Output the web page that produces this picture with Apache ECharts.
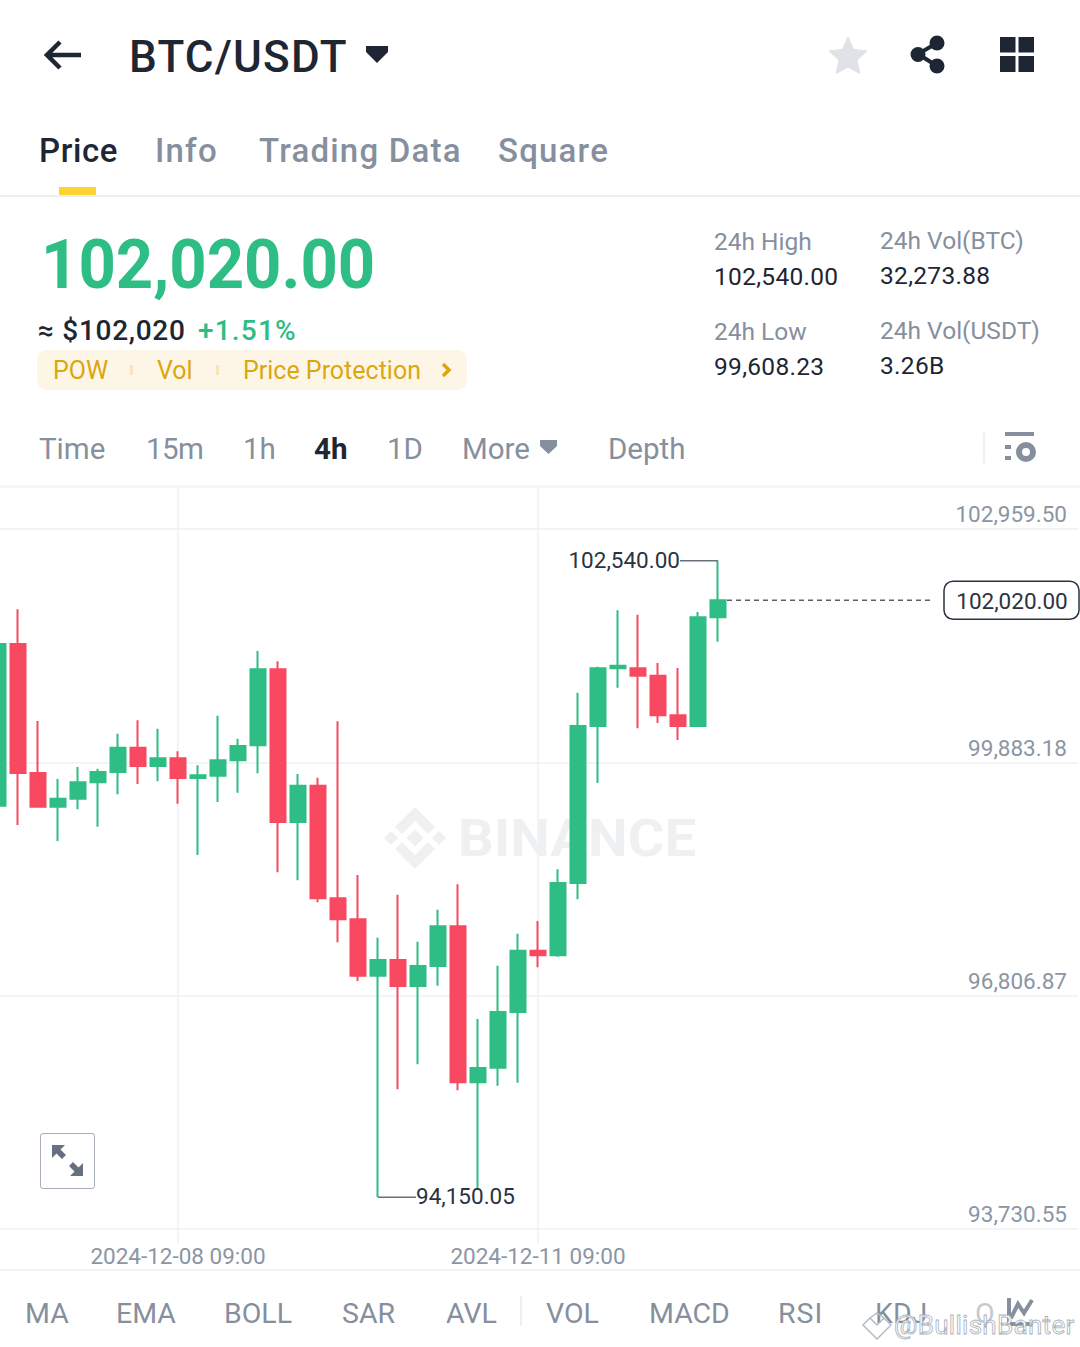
<!DOCTYPE html>
<html>
<head>
<meta charset="utf-8">
<title>BTC/USDT</title>
<script src="https://cdn.jsdelivr.net/npm/echarts@6/dist/echarts.min.js"></script>
<style>
html, body { margin: 0; padding: 0; background: #fff; }
#page { position: relative; width: 1080px; height: 1347px; overflow: hidden; font-family: Roboto, sans-serif; color: #1e2633; }
#page span { position: absolute; white-space: nowrap; line-height: 1; transform: translateY(-50%); }
#page svg, #page .box { position: absolute; }
.grey { color: #868f9e; }
.tab { font-size: 33px; font-weight: 500; top: 150px; letter-spacing: 0.6px; }
.tab.grey { letter-spacing: 1.2px; }
.stat { font-size: 24.5px; letter-spacing: 0.3px; }
.stat.grey { letter-spacing: 0; }
.pill { font-size: 25px; top: 370px; color: #dba70f; }
.iv { font-size: 29.5px; top: 450px; color: #868f9e; }
.ind { font-size: 28.5px; top: 1314px; color: #868f9e; }
#chart_1 { position: absolute; left: 0; top: 488px; width: 1080px; height: 782px; }
</style>
</head>
<body>
<div id="page">
	<!-- top bar -->
	<svg style="left:44px;top:40px" width="38" height="30" viewBox="0 0 38 30"><path d="M37 15H4M16 2L3 15l13 13" fill="none" stroke="#1e2633" stroke-width="4.5"/></svg>
	<span style="left:129px;top:57px;font-size:44px;font-weight:500;letter-spacing:1.2px">BTC/USDT</span>
	<svg style="left:365px;top:45px" width="24" height="19" viewBox="0 0 24 19"><path d="M1 1h22v6L12 18 1 7z" fill="#1e2633"/></svg>
	<svg style="left:828px;top:36px" width="40" height="40" viewBox="0 0 40 40"><path d="M20 1l5.6 12.4 13.4 1.5-10 9.2 2.8 13.4L20 31l-11.8 6.5 2.8-13.4-10-9.2 13.400-1.500z" fill="#dfe2e6" stroke="#dfe2e6" stroke-width="1" stroke-linejoin="round"/></svg>
	<svg style="left:909px;top:35px" width="38" height="40" viewBox="0 0 38 40"><path d="M28 8L9 19l19 12" fill="none" stroke="#1e2633" stroke-width="4"/><circle cx="28" cy="8" r="7.500" fill="#1e2633"/><circle cx="9" cy="19.500" r="7.500" fill="#1e2633"/><circle cx="28" cy="31" r="7.500" fill="#1e2633"/></svg>
	<svg style="left:1000px;top:37px" width="34" height="35" viewBox="0 0 34 35"><path d="M0 0h15.500v15.500H0zM18.500 0H34v15.500H18.500zM0 19h15.500v16H0zM18.500 19H34v16H18.500z" fill="#1e2633"/></svg>

	<!-- tabs -->
	<span class="tab" style="left:39px">Price</span>
	<span class="tab grey" style="left:155px">Info</span>
	<span class="tab grey" style="left:259px">Trading Data</span>
	<span class="tab grey" style="left:498px">Square</span>
	<div class="box" style="left:59px;top:187px;width:37px;height:8px;background:#fcd535"></div>
	<div class="box" style="left:0;top:195px;width:1080px;height:1.500px;background:#eeeff1"></div>

	<!-- price block -->
	<span style="left:41px;top:264px;font-size:69px;font-weight:700;color:#2ebd85;transform-origin:left center;transform:translateY(-50%) scaleX(0.945)">102,020.00</span>
	<span style="left:38px;top:331px;font-size:28px;letter-spacing:0.7px;font-weight:500">≈ $102,020</span>
	<span style="left:198px;top:331px;font-size:28px;color:#2ebd85;letter-spacing:1.2px;font-weight:500">+1.51%</span>
	<div class="box" style="left:37px;top:350px;width:430px;height:40px;border-radius:10px;background:#fdf6e7"></div>
	<span class="pill" style="left:53px">POW</span>
	<div class="box" style="left:130px;top:365px;width:3px;height:10px;background:#f8e6b8"></div>
	<span class="pill" style="left:157px">Vol</span>
	<div class="box" style="left:216px;top:365px;width:3px;height:10px;background:#f8e6b8"></div>
	<span class="pill" style="left:243px">Price Protection</span>
	<svg style="left:441px;top:362px" width="12" height="16" viewBox="0 0 12 16"><path d="M2 2l6 6-6 6" fill="none" stroke="#dba70f" stroke-width="3.500"/></svg>

	<!-- 24h stats -->
	<span class="stat grey" style="left:714px;top:242px">24h High</span>
	<span class="stat" style="left:714px;top:277px">102,540.00</span>
	<span class="stat grey" style="left:880px;top:241px">24h Vol(BTC)</span>
	<span class="stat" style="left:880px;top:276px">32,273.88</span>
	<span class="stat grey" style="left:714px;top:332px">24h Low</span>
	<span class="stat" style="left:714px;top:367px">99,608.23</span>
	<span class="stat grey" style="left:880px;top:331px">24h Vol(USDT)</span>
	<span class="stat" style="left:880px;top:366px">3.26B</span>

	<!-- interval row -->
	<span class="iv" style="left:39px">Time</span>
	<span class="iv" style="left:146px;letter-spacing:-0.6px">15m</span>
	<span class="iv" style="left:243px">1h</span>
	<span class="iv" style="left:314px;color:#1e2633;font-weight:700">4h</span>
	<span class="iv" style="left:387px">1D</span>
	<span class="iv" style="left:462px">More</span>
	<svg style="left:540px;top:440px" width="17" height="14" viewBox="0 0 17 14"><path d="M0 0h17v6l-8.500 8L0 6z" fill="#868f9e"/></svg>
	<span class="iv" style="left:608px">Depth</span>
	<div class="box" style="left:983px;top:433px;width:1.500px;height:30px;background:#eeeff1"></div>
	<svg style="left:1005px;top:432px" width="31" height="31" viewBox="0 0 31 31"><path d="M0 0h29v4H0zM0 13h6v4H0zM0 24h6v4H0z" fill="#868f9e"/><circle cx="21" cy="20" r="7" fill="none" stroke="#868f9e" stroke-width="6"/></svg>
	<div class="box" style="left:0;top:485px;width:1080px;height:3px;background:#f5f5f6"></div>

	<div id="chart_1"></div>
	<div class="box" style="left:0;top:1269px;width:1080px;height:2px;background:#f0f1f3"></div>

	<!-- expand button -->
	<div class="box" style="left:40px;top:1133px;width:53px;height:54px;border:1.500px solid #a9afb8;border-radius:3px;background:#fff"></div>
	<svg style="left:51px;top:1144px" width="33" height="33" viewBox="0 0 33 33"><path d="M1 1h13l-4.500 4.500L15 11l-4 4-5.500-5.500L1 14zM32 32H19l4.500-4.500L18 22l4-4 5.500 5.500L32 19z" fill="#66707e"/></svg>

	<!-- indicators -->
	<span class="ind" style="left:25px">MA</span>
	<span class="ind" style="left:116px">EMA</span>
	<span class="ind" style="left:224px">BOLL</span>
	<span class="ind" style="left:342px">SAR</span>
	<span class="ind" style="left:446px">AVL</span>
	<div class="box" style="left:520px;top:1296px;width:1.500px;height:30px;background:#eeeff1"></div>
	<span class="ind" style="left:546px">VOL</span>
	<span class="ind" style="left:649px">MACD</span>
	<span class="ind" style="left:778px;letter-spacing:1px">RSI</span>
	<span class="ind" style="left:875px">KDJ</span>
	<span class="ind" style="left:975px;color:#c5c9cf">O</span>
	<svg style="left:1006px;top:1298px" width="28" height="30" viewBox="0 0 28 30"><path d="M3 0v26h24M5 20l7-14 6 9 8-13" fill="none" stroke="#868f9e" stroke-width="4"/></svg>

	<!-- image watermark -->
	<svg style="left:862px;top:1312px" width="30" height="28" viewBox="0 0 30 28"><path d="M15 27L1 13l7-7 7 7 7-7 7 7zM8 6l7-5 7 5" fill="none" stroke="#b5bac2" stroke-width="1.500"/></svg>
	<span style="left:894px;top:1325px;font-size:26px;color:#fff;-webkit-text-stroke:0.8px #aab0b9;letter-spacing:0.3px">@BullishBanter</span>
</div>

<script>
// 4h candles, the first one is cut by the left edge
var times = [
	'2024-12-06 21:00', '2024-12-07 01:00', '2024-12-07 05:00', '2024-12-07 09:00', '2024-12-07 13:00',
	'2024-12-07 17:00', '2024-12-07 21:00', '2024-12-08 01:00', '2024-12-08 05:00', '2024-12-08 09:00',
	'2024-12-08 13:00', '2024-12-08 17:00', '2024-12-08 21:00', '2024-12-09 01:00', '2024-12-09 05:00',
	'2024-12-09 09:00', '2024-12-09 13:00', '2024-12-09 17:00', '2024-12-09 21:00', '2024-12-10 01:00',
	'2024-12-10 05:00', '2024-12-10 09:00', '2024-12-10 13:00', '2024-12-10 17:00', '2024-12-10 21:00',
	'2024-12-11 01:00', '2024-12-11 05:00', '2024-12-11 09:00', '2024-12-11 13:00', '2024-12-11 17:00',
	'2024-12-11 21:00', '2024-12-12 01:00', '2024-12-12 05:00', '2024-12-12 09:00', '2024-12-12 13:00',
	'2024-12-12 17:00', '2024-12-12 21:00'
];
var opens = [99311, 101443, 99743, 99298, 99404, 99620, 99755, 100076, 99835, 99936,
	99677, 99707, 99910, 100108, 101110, 99097, 99575, 98091, 97814, 97070,
	97277, 96934, 97198, 97721, 95665, 95857, 96592, 97400, 97339, 98292,
	100362, 101123, 101123, 101025, 100503, 100362, 101796];
var closes = [101443, 99743, 99298, 99404, 99620, 99755, 100076, 99835, 99936, 99677,
	99712, 99910, 100098, 101110, 99097, 99575, 98091, 97814, 97070, 97277,
	96934, 97198, 97721, 95665, 95853, 96592, 97400, 97339, 98292, 100362,
	101123, 101157, 101025, 100503, 100362, 101796, 102020];
var lows = [99280, 99057, 99285, 98846, 99264, 99035, 99462, 99597, 99633, 99338,
	98661, 99360, 99483, 99739, 98433, 98328, 98038, 97511, 97000, 94150.05,
	95572, 95902, 96938, 95559, 94245, 95620, 95660, 97181, 97321, 98077,
	99611, 100867, 100332, 100402, 100178, 100349, 101474];
var highs = [101500, 101901, 100428, 99663, 99822, 99799, 100261, 100437, 100327, 100029,
	99844, 100498, 100195, 101351, 101215, 99730, 99681, 100424, 98398, 97571,
	98138, 97518, 97940, 98275, 96499, 97202, 97624, 97791, 98473, 100801,
	101144, 101888, 101830, 101193, 101127, 101865, 102540];
var priceTicks = [93730.55, 96806.87, 99883.18, 102959.50];
var dateLabels = ['2024-12-08 09:00', '2024-12-11 09:00'];
var noteIndex = [36, 19, 36];
var notePrices = [102540.00, 94150.05, 102020.00];
var emptySlots = 18; // room on the right of the last candle

chart_1();

function fmt(v) {
	return v.toLocaleString('en-US', { minimumFractionDigits: 2, maximumFractionDigits: 2 });
}

function renderNote(params, api) {
	var p = api.coord([api.value(0), api.value(1)]);
	var text = fmt(api.value(1));
	var textStyle = { text: text, fill: '#2b3340', font: '22.5px Roboto' };
	if (params.dataIndex == 0) {
		textStyle.x = p[0] - 38; textStyle.y = p[1] - 1;
		textStyle.align = 'right'; textStyle.verticalAlign = 'middle';
		return { type: 'group', children: [
			{ type: 'line', shape: { x1: p[0] - 38, y1: p[1], x2: p[0], y2: p[1] }, style: { stroke: '#6a7079', lineWidth: 1.5 } },
			{ type: 'text', style: textStyle }
		] };
	}
	if (params.dataIndex == 1) {
		textStyle.x = p[0] + 38; textStyle.y = p[1] - 1;
		textStyle.align = 'left'; textStyle.verticalAlign = 'middle';
		return { type: 'group', children: [
			{ type: 'line', shape: { x1: p[0], y1: p[1], x2: p[0] + 38, y2: p[1] }, style: { stroke: '#6a7079', lineWidth: 1.5 } },
			{ type: 'text', style: textStyle }
		] };
	}
	// last price line and tag
	textStyle.x = p[0] + 294; textStyle.y = p[1] + 1;
	textStyle.align = 'center'; textStyle.verticalAlign = 'middle';
	return { type: 'group', children: [
		{ type: 'line', shape: { x1: p[0] + 9, y1: p[1], x2: p[0] + 214, y2: p[1] }, style: { stroke: '#5a6069', lineWidth: 1.5, lineDash: [5, 4] } },
		{ type: 'rect', shape: { x: p[0] + 226, y: p[1] - 19, width: 135, height: 38, r: 9 }, style: { fill: '#fff', stroke: '#2b3340', lineWidth: 1.5 } },
		{ type: 'text', style: textStyle }
	] };
}

function chart_1() {
	var myChart = echarts.init(document.getElementById('chart_1'), null, { renderer: 'svg' });
	var cats = times.slice();
	for (var i = 0; i < emptySlots; i++) cats.push('+' + i);
	var candles = [];
	for (var k = 0; k < times.length; k++) {
		candles.push([opens[k], closes[k], lows[k], highs[k]]);
	}
	var notes = [];
	for (var n = 0; n < noteIndex.length; n++) {
		notes.push([noteIndex[n], notePrices[n]]);
	}
	function isDate(idx, value) {
		return dateLabels.indexOf(value) >= 0;
	}
	// BINANCE watermark behind the candles
	var logoParts = [
		[[31, 0], [51, 20], [44, 27], [31, 14], [18, 27], [11, 20]],
		[[31, 62], [11, 42], [18, 35], [31, 48], [44, 35], [51, 42]],
		[[31, 22.5], [39.5, 31], [31, 39.5], [22.5, 31]],
		[[7, 24], [14, 31], [7, 38], [0, 31]],
		[[55, 24], [62, 31], [55, 38], [48, 31]]
	];
	var watermark = logoParts.map(function(points) {
		return {
			type: 'polygon', z: 0, silent: true, x: 384, y: 319,
			shape: { points: points },
			style: { fill: '#eff0f2' }
		};
	});
	watermark.push({
		type: 'text', z: 0, silent: true, x: 458, y: 350,
		scaleX: 1.08,
		style: { text: 'BINANCE', fill: '#eff0f2', font: 'bold 52px Roboto', verticalAlign: 'middle' }
	});
	var option = {
		animation: false,
		grid: { left: -2, right: 2, top: 0, bottom: 27, outerBoundsMode: 'none' },
		graphic: watermark,
		xAxis: {
			type: 'category',
			data: cats,
			boundaryGap: false,
			axisLine: { show: false },
			axisTick: { show: false },
			axisLabel: {
				interval: isDate,
				color: '#8c95a3',
				fontFamily: 'Roboto',
				fontSize: 22.5,
				margin: 1
			},
			splitLine: { show: true, interval: isDate, lineStyle: { color: '#eff0f2', width: 1.5 } }
		},
		yAxis: {
			type: 'value',
			position: 'right',
			min: 93545.97,
			max: 103500.04,
			axisLine: { show: false },
			axisTick: { show: false, customValues: priceTicks },
			axisLabel: {
				inside: true,
				customValues: priceTicks,
				formatter: fmt,
				color: '#8c95a3',
				fontFamily: 'Roboto',
				fontSize: 22.5,
				margin: 11,
				verticalAlign: 'bottom',
				padding: [0, 0, 3, 0]
			},
			splitLine: { show: true, lineStyle: { color: '#eff0f2', width: 1.5 } }
		},
		series: [{
			type: 'candlestick',
			name: 'BTC/USDT',
			barWidth: 16,
			data: candles,
			itemStyle: {
				color: '#2ebd85',
				color0: '#f84960',
				borderColor: '#2ebd85',
				borderColor0: '#f84960',
				borderWidth: 2
			}
		}, {
			type: 'custom',
			name: 'notes',
			data: notes,
			encode: { x: 0, y: 1 },
			renderItem: renderNote,
			z: 5,
			silent: true
		}]
	};
	myChart.setOption(option);
	window.addEventListener('resize', function() {
		myChart.resize();
	});
}
</script>
</body>
</html>
